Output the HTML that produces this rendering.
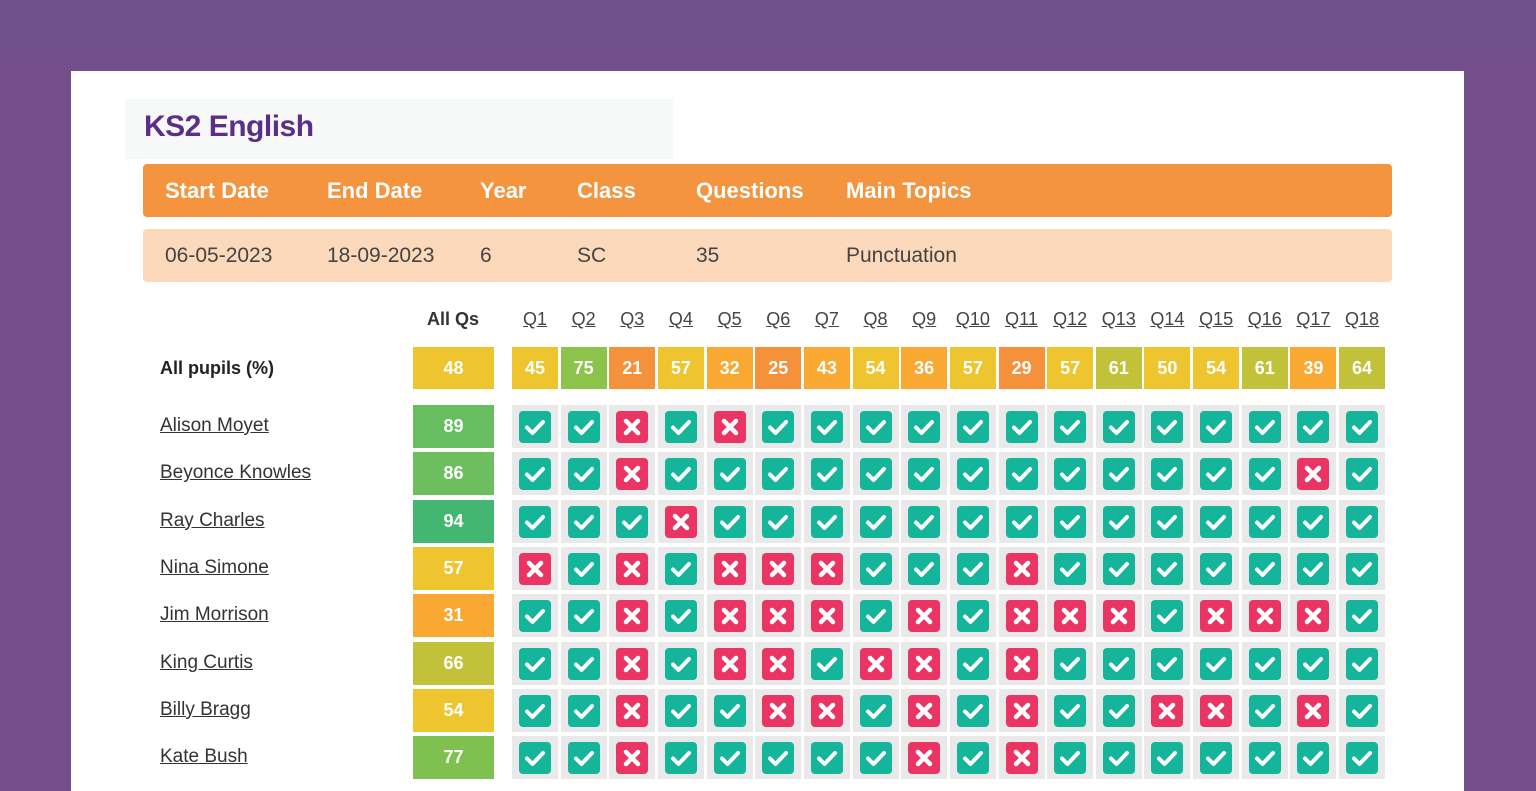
<!DOCTYPE html>
<html><head><meta charset="utf-8"><style>
body{margin:0;width:1536px;height:768px;overflow:hidden;background:#744f8c;font-family:"Liberation Sans",sans-serif;position:relative}
.a{position:absolute}
#card{left:71px;top:71px;width:1393px;height:720px;background:#fff}
.hd{color:#fff;font-weight:bold;font-size:22px}
.pd{color:#444;font-size:21px}
.q{color:#444;font-size:18px;text-decoration:underline;text-align:center;width:46px}
.c{width:46px;height:42px;color:#fff;font-weight:bold;font-size:18px;text-align:center;line-height:42px}
.g{width:46px;height:43px;background:#e9e9e9}
.b{position:absolute;left:7px;top:6px;width:32px;height:32px;border-radius:4px}
.n{color:#333;font-size:19px;text-decoration:underline}
</style></head><body>
<div class="a" style="left:0;top:0;width:1536px;height:50px;background:#70508a;filter:blur(8px)"></div>
<div class="a" id="card"></div>
<div class="a" style="left:125px;top:99px;width:548px;height:60px;background:#f7f9f9"></div>
<div class="a" style="left:144px;top:110px;font-size:30px;font-weight:bold;color:#5b2f86;letter-spacing:-0.5px">KS2 English</div>
<div class="a" style="left:143px;top:164px;width:1249px;height:53px;background:#f4943e;border-radius:4px"></div>
<div class="a" style="left:143px;top:229px;width:1249px;height:53px;background:#fdd9bb;border-radius:4px"></div>
<div class="a hd" style="left:165px;top:178px">Start Date</div>
<div class="a hd" style="left:327px;top:178px">End Date</div>
<div class="a hd" style="left:480px;top:178px">Year</div>
<div class="a hd" style="left:577px;top:178px">Class</div>
<div class="a hd" style="left:696px;top:178px">Questions</div>
<div class="a hd" style="left:846px;top:178px">Main Topics</div>
<div class="a pd" style="left:165px;top:244px">06-05-2023</div>
<div class="a pd" style="left:327px;top:244px">18-09-2023</div>
<div class="a pd" style="left:480px;top:244px">6</div>
<div class="a pd" style="left:577px;top:244px">SC</div>
<div class="a pd" style="left:696px;top:244px">35</div>
<div class="a pd" style="left:846px;top:244px">Punctuation</div>
<div class="a" style="left:427px;top:309px;font-size:18px;font-weight:bold;color:#333">All Qs</div>
<div class="a" style="left:160px;top:358px;font-size:18px;font-weight:bold;color:#222">All pupils (%)</div>
<div id="root"></div>
<script>
const Y='#eec52f',G='#8cc34a',O='#f4913a',L='#f9a932',V='#c2c23a';
const qs=[[45,Y],[75,G],[21,O],[57,Y],[32,L],[25,O],[43,L],[54,Y],[36,L],[57,Y],[29,O],[57,Y],[61,V],[50,Y],[54,Y],[61,V],[39,L],[64,V]];
const st=[["Alison Moyet",89,'#67bd5f',[3,5]],["Beyonce Knowles",86,'#6dbe5e',[3,17]],["Ray Charles",94,'#43b671',[4]],["Nina Simone",57,Y,[1,3,5,6,7,11]],["Jim Morrison",31,L,[3,5,6,7,9,11,12,13,15,16,17]],["King Curtis",66,V,[3,5,6,8,9,11]],["Billy Bragg",54,Y,[3,6,7,9,11,14,15,17]],["Kate Bush",77,'#7ec14f',[3,9,11]]];
let h='';
const tick='<svg width="32" height="32" viewBox="0 0 32 32"><path d="M8 16.5l5.5 5.5L24 11" stroke="#fff" stroke-width="4" fill="none" stroke-linecap="round" stroke-linejoin="round"/></svg>';
const crs='<svg width="32" height="32" viewBox="0 0 32 32"><path d="M10 10L22 22M22 10L10 22" stroke="#fff" stroke-width="4.5" fill="none" stroke-linecap="round"/></svg>';
h+=`<div class="a c" style="left:413px;top:347px;width:81px;background:${Y}">48</div>`;
for(let i=0;i<18;i++){const x=512+i*48.65;
h+=`<div class="a q" style="left:${x}px;top:309px">Q${i+1}</div>`;
h+=`<div class="a c" style="left:${x}px;top:347px;background:${qs[i][1]}">${qs[i][0]}</div>`;}
st.forEach((s,r)=>{const y=405+r*47.3;
h+=`<div class="a n" style="left:160px;top:${y+10}px">${s[0]}</div>`;
h+=`<div class="a c" style="left:413px;top:${y}px;width:81px;height:43px;background:${s[2]}">${s[1]}</div>`;
for(let i=0;i<18;i++){const x=512+i*48.65;const bad=s[3].includes(i+1);
h+=`<div class="a g" style="left:${x}px;top:${y}px"><div class="b" style="background:${bad?'#ea3464':'#14b59a'}">${bad?crs:tick}</div></div>`;}});
document.getElementById('root').innerHTML=h;
</script>
</body></html>
